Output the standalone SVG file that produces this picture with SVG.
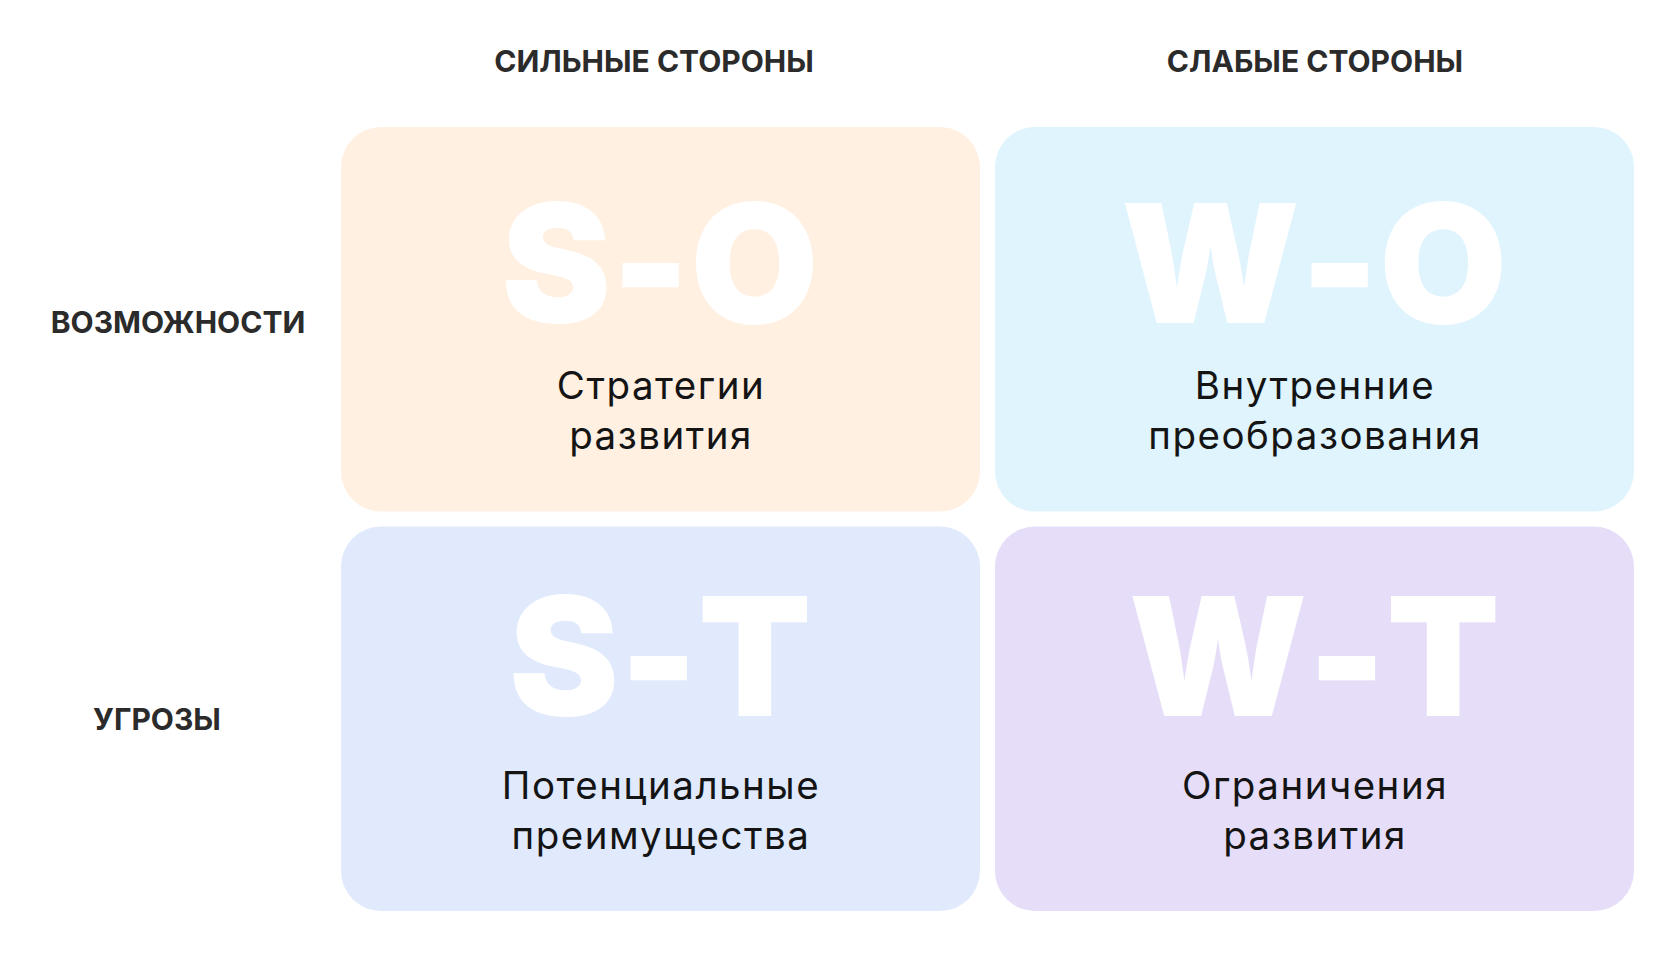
<svg xmlns="http://www.w3.org/2000/svg" width="1680" height="954" viewBox="0 0 1680 954">
<style>
.hdr{font-family:Inter,"Liberation Sans",sans-serif;font-weight:700;font-size:30px;fill:#2b2b2b;text-anchor:middle}
.big{font-family:Inter,"Liberation Sans",sans-serif;font-weight:900;font-size:165px;fill:#ffffff;text-anchor:middle;font-kerning:none;letter-spacing:0.5px}
.sub{font-family:Inter,"Liberation Sans",sans-serif;font-weight:400;font-size:38.5px;letter-spacing:1.5px;fill:#141414;text-anchor:middle}
</style>
<rect width="1680" height="954" fill="#ffffff"/>
<g id="header-strengths"><text class="hdr" x="654" y="71.5">СИЛЬНЫЕ СТОРОНЫ</text></g>
<g id="header-weaknesses"><text class="hdr" x="1315" y="71.5">СЛАБЫЕ СТОРОНЫ</text></g>
<g id="row-opportunities"><text class="hdr" x="178" y="333">ВОЗМОЖНОСТИ</text></g>
<g id="row-threats"><text class="hdr" x="157" y="730">УГРОЗЫ</text></g>
<g id="so">
<rect x="341" y="127" width="639" height="384.5" rx="40" fill="#FFF0E2"/>
<text class="big" x="660" y="322.5">S-O</text>
<text class="sub" x="661" y="399">Стратегии</text>
<text class="sub" x="661" y="449">развития</text>
</g>
<g id="wo">
<rect x="995" y="127" width="639" height="384.5" rx="40" fill="#E0F4FE"/>
<text class="big" x="1314.5" y="322.5">W-O</text>
<text class="sub" x="1315" y="399">Внутренние</text>
<text class="sub" x="1315" y="449">преобразования</text>
</g>
<g id="st">
<rect x="341" y="526.5" width="639" height="384.5" rx="40" fill="#E0EAFC"/>
<text class="big" x="660.5" y="715.5">S-T</text>
<text class="sub" x="661" y="798.5">Потенциальные</text>
<text class="sub" x="661" y="848.5">преимущества</text>
</g>
<g id="wt">
<rect x="995" y="526.5" width="639" height="384.5" rx="40" fill="#E6DEF8"/>
<text class="big" x="1314.5" y="715.5">W-T</text>
<text class="sub" x="1315" y="798.5">Ограничения</text>
<text class="sub" x="1315" y="848.5">развития</text>
</g>
<g id="connectors"></g>
</svg>
